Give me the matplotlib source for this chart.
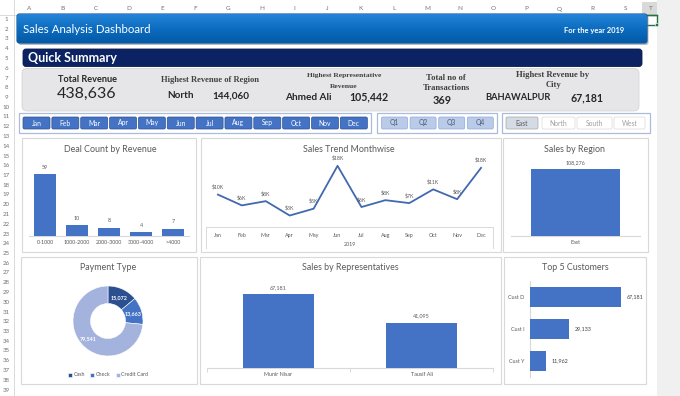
import numpy as np
import matplotlib
matplotlib.use("Agg")
import matplotlib.pyplot as plt
from matplotlib.patches import FancyBboxPatch, Rectangle
from matplotlib.colors import LinearSegmentedColormap
import string

plt.rcParams['font.family'] = ['Lato', 'DejaVu Sans']

# ---------------- data ----------------
title_text = "Sales Analysis Dashboard"
year_text = "For the year 2019"
total_revenue = "438,636"
top_region, top_region_rev = "North", "144,060"
top_rep, top_rep_rev = "Ahmed Ali", "105,442"
total_transactions = "369"
top_city, top_city_rev = "BAHAWALPUR", "67,181"

months = ["Jan", "Feb", "Mar", "Apr", "May", "Jun", "Jul", "Aug", "Sep", "Oct", "Nov", "Dec"]
quarters = ["Q1", "Q2", "Q3", "Q4"]
regions = ["East", "North", "South", "West"]

deal_bins = ["0-1000", "1000-2000", "2000-3000", "3000-4000", ">4000"]
deal_counts = [59, 10, 8, 4, 7]

monthly_sales = [9600, 6300, 7600, 3200, 5300, 18400, 5800, 7900, 7000, 11200, 8200, 17776]
trend_year = "2019"

region_names = ["East"]
region_sales = [108276]

payment_types = ["Cash", "Check", "Credit Card"]
payment_values = [15072, 13663, 79541]

reps = ["Munir Nisar", "Tausif Ali"]
rep_sales = [67181, 41095]

customers = ["Cust D", "Cust I", "Cust Y"]
customer_sales = [67181, 29133, 11962]

# ---------------- figure ----------------
W, H = 680, 396
fig = plt.figure(figsize=(W / 100, H / 100), dpi=100)
fig.patch.set_facecolor("white")
bg = fig.add_axes([0, 0, 1, 1])
bg.set_xlim(0, W)
bg.set_ylim(H, 0)
bg.axis("off")

BLUE = "#4472C4"
LBL = "#595959"


def px_axes(x0, y0, x1, y1):
    return fig.add_axes([x0 / W, 1 - y1 / H, (x1 - x0) / W, (y1 - y0) / H])


def rbox(x0, y0, x1, y1, fc, ec="none", lw=0.8, r=3, z=2, **kw):
    p = FancyBboxPatch((x0, y0), x1 - x0, y1 - y0,
                       boxstyle=f"round,pad=0,rounding_size={r}",
                       fc=fc, ec=ec, lw=lw, zorder=z, **kw)
    bg.add_patch(p)
    return p


# ---- excel chrome ----
bg.add_patch(Rectangle((657, 0), W - 657, H, fc="#f0f0f0", ec="none", zorder=0))
bg.plot([13.5, 13.5], [0, H], color="#d4d4d4", lw=0.6, zorder=1)
bg.plot([0, 657], [14.5, 14.5], color="#d4d4d4", lw=0.6, zorder=1)
bg.add_patch(Rectangle((642, 2), 15, 12.5, fc="#d9d9d9", ec="none", zorder=0.5))
bg.plot([642, 657], [14.5, 14.5], color="#217346", lw=1.0, zorder=1)
bg.add_patch(Rectangle((642, 15), 15, 9.5, fc="none", ec="#217346", lw=1.0, zorder=1))
bg.add_patch(Rectangle((654.5, 22.5), 3, 3, fc="#217346", ec="white", lw=0.4, zorder=1.2))
letters = list(string.ascii_uppercase[:20])
for i, L in enumerate(letters):
    x = 29.3 + i * 33.15 if L != "T" else 651
    bg.text(x, 9, L, ha="center", va="center", fontsize=4.6, color="#707070", zorder=1)
for k in range(1, 40):
    bg.text(6.5, 19.5 + (k - 1) * 9.75, str(k), ha="center", va="center",
            fontsize=4.4, color="#707070", zorder=1)

# ---- banner ----
bg.add_patch(FancyBboxPatch((18.5, 15.5), 630, 29.5, boxstyle="round,pad=0,rounding_size=2.5",
                            fc="#8c8c8c", ec="none", alpha=0.6, zorder=2))
ban = rbox(17, 14, 647, 43, fc="#0b68bb", ec="#0d4f91", lw=0.8, r=2.5, z=3)
cmap = LinearSegmentedColormap.from_list("b", ["#2484d6", "#0c6cc0", "#045aa6"])
im = bg.imshow(np.linspace(0, 1, 60).reshape(-1, 1), extent=(17, 647, 43, 14), cmap=cmap,
               aspect="auto", zorder=3.1)
im.set_clip_path(ban)
bg.set_xlim(0, W)
bg.set_ylim(H, 0)
bg.text(23, 29.5, title_text, ha="left", va="center", color="white", fontsize=8.3, zorder=4)
bg.text(624, 31, year_text, ha="right", va="center", color="white", fontsize=5.4,
        fontweight="bold", zorder=4)

# ---- quick summary ----
rbox(23, 49, 642, 66.5, fc="#0c2363", ec="#0a1a4a", lw=0.6, r=3, z=3)
bg.text(28, 58, "Quick Summary", ha="left", va="center", color="white", fontsize=9,
        fontweight="bold", zorder=4)
rbox(22, 68.5, 639, 111, fc="#e6e6e8", ec="#d0d0d0", lw=0.5, r=5, z=3)

K = dict(ha="center", va="center", zorder=4)
SER = dict(family=["Liberation Serif", "DejaVu Serif"], fontweight="bold", color="#404040")
bg.text(87, 80, "Total Revenue", fontsize=6.6, fontweight="bold", color="#262626", **K)
bg.text(87, 94, total_revenue, fontsize=11.5, color="#262626", **K)
bg.text(210, 80, "Highest Revenue of Region", fontsize=6.1, **SER, **K)
bg.text(180, 96, top_region, fontsize=7.2, fontweight="bold", color="#262626", **K)
bg.text(231, 96, top_region_rev, fontsize=7.2, fontweight="bold", color="#262626", **K)
bg.text(344, 76, "Highest Representative", fontsize=5.4, **SER, **K)
bg.text(344, 86, "Revenue", fontsize=5.4, **SER, **K)
bg.text(308, 98, top_rep, fontsize=7.2, fontweight="bold", color="#262626", **K)
bg.text(369, 97, top_rep_rev, fontsize=7.6, fontweight="bold", color="#262626", **K)
bg.text(446, 78, "Total no of", fontsize=6.2, **SER, **K)
bg.text(446, 88, "Transactions", fontsize=6.2, **SER, **K)
bg.text(442, 101, total_transactions, fontsize=7.8, fontweight="bold", color="#262626", **K)
bg.text(553, 75, "Highest Revenue by", fontsize=6.2, **SER, **K)
bg.text(553, 85, "City", fontsize=6.2, **SER, **K)
bg.text(518, 98, top_city, fontsize=6.7, fontweight="bold", color="#262626", **K)
bg.text(587, 98, top_city_rev, fontsize=7.6, fontweight="bold", color="#262626", **K)

# ---- slicers ----
bg.add_patch(Rectangle((19, 113), 352, 20, fc="white", ec="#a9bcdc", lw=0.9, zorder=3))
for i, m in enumerate(months):
    x0 = 23 + i * 28.85
    rbox(x0, 117, x0 + 27, 129, fc=BLUE, ec="#2f528f", lw=0.5, r=1.5, z=4)
    bg.text(x0 + 13.5, 123, m, ha="center", va="center", color="white", fontsize=4.9, zorder=5)
bg.add_patch(Rectangle((377, 113), 120, 20, fc="white", ec="#a9bcdc", lw=0.9, zorder=3))
for i, q in enumerate(quarters):
    x0 = 381.5 + i * 28.6
    rbox(x0, 117, x0 + 26, 129, fc="#b9cbe9", ec="#8faadc", lw=0.5, r=1.5, z=4)
    bg.text(x0 + 13, 123, q, ha="center", va="center", color="#4a5a75", fontsize=4.9, zorder=5)
bg.add_patch(Rectangle((502, 113), 148, 20, fc="white", ec="#a9bcdc", lw=0.9, zorder=3))
reg_x = [(506, 538), (542, 575), (577, 612), (614, 645)]
for i, r in enumerate(regions):
    x0, x1 = reg_x[i]
    sel = i == 0
    rbox(x0, 117, x1, 129, fc="#d5dbe5" if sel else "white",
         ec="#a6a6a6" if sel else "#d9d9d9", lw=0.5, r=1.5, z=4)
    bg.text((x0 + x1) / 2, 123, r, ha="center", va="center",
            color="#595959" if sel else "#a0a0a0", fontsize=4.9, zorder=5)

# ---- chart panels ----
panels = [(22, 138, 196, 252), (201, 138, 501, 252), (503, 138, 648, 252),
          (21, 257, 197, 384), (200, 257, 501, 384), (504, 257, 646, 384)]
for (x0, y0, x1, y1) in panels:
    bg.add_patch(Rectangle((x0, y0), x1 - x0, y1 - y0, fc="white", ec="#d9d9d9", lw=0.8, zorder=3))

TT = dict(ha="center", va="center", color=LBL, fontsize=6.4, zorder=5)
bg.text(110, 149, "Deal Count by Revenue", **TT)
bg.text(349, 149, "Sales Trend Monthwise", **TT)
bg.text(575, 149, "Sales by Region", **TT)
bg.text(108, 267, "Payment Type", **TT)
bg.text(350, 267, "Sales by Representatives", **TT)
bg.text(575, 267, "Top 5 Customers", **TT)


def clean(ax, left=False, bottom=True):
    ax.patch.set_alpha(0)
    for s in ax.spines.values():
        s.set_visible(False)
    if bottom:
        ax.spines["bottom"].set_visible(True)
        ax.spines["bottom"].set_color("#d9d9d9")
        ax.spines["bottom"].set_linewidth(0.8)
    if left:
        ax.spines["left"].set_visible(True)
        ax.spines["left"].set_color("#d9d9d9")
        ax.spines["left"].set_linewidth(0.8)
    ax.set_yticks([])
    ax.tick_params(axis="both", length=0, labelsize=3.9, labelcolor=LBL)


# Deal Count by Revenue
ax1 = px_axes(29, 160, 189, 236)
clean(ax1)
b = ax1.bar(range(len(deal_bins)), deal_counts, width=0.66, color=BLUE, zorder=3)
ax1.bar_label(b, padding=3, fontsize=3.9, color=LBL)
ax1.set_xlim(-0.5, len(deal_bins) - 0.5)
ax1.set_ylim(0, 76 / 1.05)
ax1.set_xticks(range(len(deal_bins)), deal_bins)
ax1.tick_params(axis="x", pad=3)

# Sales Trend Monthwise
ax2 = px_axes(206, 158, 493, 226)
clean(ax2, bottom=False)
xs = np.arange(len(months))
ax2.plot(xs, monthly_sales, color="#4169b0", lw=1.3, zorder=3)
for x, v in zip(xs, monthly_sales):
    ax2.annotate(f"${v / 1000:.0f}K", (x, v), xytext=(0, 5.5), textcoords="offset points",
                 ha="center", va="center", fontsize=3.7, color=LBL)
ax2.set_xlim(-0.5, len(months) - 0.5)
ax2.set_ylim(0, 68 / 3.27 * 1000)
ax2.set_xticks(xs, months)
ax2.tick_params(axis="x", pad=5)
bg.plot([206, 493], [227, 227], color="#d9d9d9", lw=0.7, zorder=4)
bg.plot([206, 206], [227, 248], color="#d9d9d9", lw=0.7, zorder=4)
bg.plot([493, 493], [227, 248], color="#d9d9d9", lw=0.7, zorder=4)
bg.text(349.5, 245, trend_year, ha="center", va="center", fontsize=3.9, color=LBL, zorder=5)

# Sales by Region
ax3 = px_axes(511, 160, 640, 236)
clean(ax3)
b = ax3.bar(range(len(region_names)), region_sales, width=0.69, color=BLUE, zorder=3)
ax3.bar_label(b, labels=[f"{v:,}" for v in region_sales], padding=3, fontsize=3.9, color=LBL)
ax3.set_xlim(-0.5, 0.5)
ax3.set_ylim(0, region_sales[0] * 76 / 67)
ax3.set_xticks(range(len(region_names)), region_names)
ax3.tick_params(axis="x", pad=3)

# Payment Type donut
ax4 = px_axes(73, 286, 143, 356)
total = sum(payment_values)
wedges, _, autot = ax4.pie(payment_values, colors=["#2b4f8f", "#4472c4", "#a4b3de"],
                           startangle=90, counterclock=False, radius=1,
                           wedgeprops=dict(width=0.5, edgecolor="white", linewidth=0.4),
                           autopct=lambda p: f"{round(p * total / 100):,}", pctdistance=0.75,
                           textprops=dict(fontsize=3.9, color="white", fontweight="bold"))
ax4.set_xlim(-1, 1)
ax4.set_ylim(-1, 1)
ax4.set_aspect("auto")
ax4.axis("off")
ax4.legend(wedges, payment_types, loc="center", bbox_to_anchor=(108 / W, 1 - 375 / H),
           bbox_transform=fig.transFigure, ncol=3, fontsize=3.9, frameon=False,
           handlelength=0.7, handleheight=0.7, columnspacing=1.0, handletextpad=0.3,
           labelcolor=LBL)

# Sales by Representatives
ax5 = px_axes(207, 280, 493, 368)
clean(ax5)
b = ax5.bar(range(len(reps)), rep_sales, width=0.49, color=BLUE, zorder=3)
ax5.bar_label(b, labels=[f"{v:,}" for v in rep_sales], padding=3, fontsize=3.9, color=LBL)
ax5.set_xlim(-0.5, len(reps) - 0.5)
ax5.set_ylim(0, rep_sales[0] * 88 / 74)
ax5.set_xticks(range(len(reps)), reps)
ax5.set_xticks([-0.5, 0.5, 1.5], minor=True)
ax5.tick_params(axis="x", which="minor", length=3, color="#d9d9d9", width=0.7)
ax5.tick_params(axis="x", pad=3)

# Top 5 Customers
ax6 = px_axes(530, 281, 640, 377)
clean(ax6, left=True, bottom=False)
b = ax6.barh(range(len(customers)), customer_sales, height=0.65, color=BLUE, zorder=3)
ax6.bar_label(b, labels=[f"{v:,}" for v in customer_sales], padding=4, fontsize=3.9, color="#404040")
ax6.set_ylim(len(customers) - 0.5, -0.5)
ax6.set_xlim(0, customer_sales[0] * 110 / 91)
ax6.set_xticks([])
ax6.set_yticks(range(len(customers)), customers)
ax6.tick_params(axis="y", pad=4, labelsize=3.9)

fig.savefig("out.png", dpi=100, facecolor="white")
